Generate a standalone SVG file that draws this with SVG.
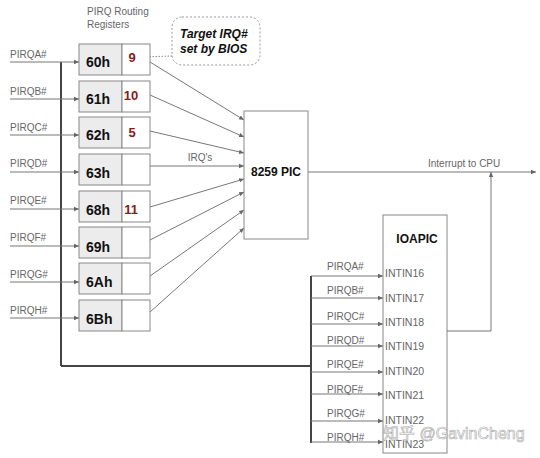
<svg xmlns="http://www.w3.org/2000/svg" width="540" height="458" viewBox="0 0 540 458">
<style>
text{font-family:"Liberation Sans",Arial,sans-serif}
.lbl{font-size:10px;fill:#666}
.reg{font-size:14px;font-weight:bold;fill:#111}
.val{font-size:13px;font-weight:bold;fill:#8b1a1a}
.intin{font-size:10.5px;fill:#666}
.box{fill:#fff;stroke:#888;stroke-width:1}
.regl{fill:#ececec;stroke:#888;stroke-width:1}
.ln{stroke:#777;stroke-width:1;fill:none}
.bus{stroke:#444;stroke-width:2;fill:none}
.big{font-size:12px;font-weight:bold;fill:#111}
</style>
<defs>
<marker id="ah" markerWidth="6" markerHeight="6" refX="5" refY="3" orient="auto" markerUnits="userSpaceOnUse">
<path d="M0,0.8 L5,3 L0,5.2 Z" fill="#666"/>
</marker>
</defs>

<text class="lbl" x="87" y="15" fill="#777">PIRQ Routing</text>
<text class="lbl" x="87" y="28">Registers</text>

<g id="callout">
<rect x="172" y="17" width="88" height="48" rx="10" fill="#fff" stroke="#999" stroke-dasharray="2,2"/>
<text x="180" y="38" style="font-size:12px;font-weight:bold;font-style:italic;fill:#111">Target IRQ#</text>
<text x="180" y="53" style="font-size:12px;font-weight:bold;font-style:italic;fill:#111">set by BIOS</text>
</g>

<g id="connectors">
<line x1="172" y1="56" x2="142" y2="57" stroke="#888" stroke-dasharray="1.5,1.5" marker-end="url(#ah)"/>
<line class="bus" x1="61" y1="62" x2="61" y2="366"/>
<line class="bus" x1="61" y1="366" x2="311" y2="366"/>
<line class="bus" x1="311" y1="276" x2="311" y2="443"/>
<line class="ln" x1="10" y1="62" x2="79" y2="62" marker-end="url(#ah)"/>
<line class="ln" x1="10" y1="99" x2="79" y2="99" marker-end="url(#ah)"/>
<line class="ln" x1="10" y1="135" x2="79" y2="135" marker-end="url(#ah)"/>
<line class="ln" x1="10" y1="172" x2="79" y2="172" marker-end="url(#ah)"/>
<line class="ln" x1="10" y1="209" x2="79" y2="209" marker-end="url(#ah)"/>
<line class="ln" x1="10" y1="246" x2="79" y2="246" marker-end="url(#ah)"/>
<line class="ln" x1="10" y1="282" x2="79" y2="282" marker-end="url(#ah)"/>
<line class="ln" x1="10" y1="318" x2="79" y2="318" marker-end="url(#ah)"/>
<line class="ln" x1="150" y1="62" x2="244" y2="120" marker-end="url(#ah)"/>
<line class="ln" x1="150" y1="95" x2="244" y2="137" marker-end="url(#ah)"/>
<line class="ln" x1="150" y1="131" x2="244" y2="153" marker-end="url(#ah)"/>
<line class="ln" x1="150" y1="166" x2="244" y2="166" marker-end="url(#ah)"/>
<line class="ln" x1="150" y1="207" x2="244" y2="179" marker-end="url(#ah)"/>
<line class="ln" x1="150" y1="240" x2="244" y2="192" marker-end="url(#ah)"/>
<line class="ln" x1="150" y1="276" x2="244" y2="210" marker-end="url(#ah)"/>
<line class="ln" x1="150" y1="312" x2="244" y2="228" marker-end="url(#ah)"/>
<line class="ln" x1="308" y1="172" x2="536" y2="172" marker-end="url(#ah)"/>
<polyline class="ln" points="447,331 491,331 491,172" marker-end="url(#ah)"/>
<line class="ln" x1="311" y1="276" x2="383" y2="276" marker-end="url(#ah)"/>
<line class="ln" x1="311" y1="298" x2="383" y2="298" marker-end="url(#ah)"/>
<line class="ln" x1="311" y1="324" x2="383" y2="324" marker-end="url(#ah)"/>
<line class="ln" x1="311" y1="346" x2="383" y2="346" marker-end="url(#ah)"/>
<line class="ln" x1="311" y1="372" x2="383" y2="372" marker-end="url(#ah)"/>
<line class="ln" x1="311" y1="394" x2="383" y2="394" marker-end="url(#ah)"/>
<line class="ln" x1="311" y1="421" x2="383" y2="421" marker-end="url(#ah)"/>
<line class="ln" x1="311" y1="442" x2="383" y2="442" marker-end="url(#ah)"/>
<text class="lbl" x="200" y="161" text-anchor="middle">IRQ's</text>
<text class="lbl" x="428" y="167">Interrupt to CPU</text>
</g>

<g id="inputs">
<text class="lbl" x="10" y="58">PIRQA#</text>
<text class="lbl" x="10" y="95">PIRQB#</text>
<text class="lbl" x="10" y="131">PIRQC#</text>
<text class="lbl" x="10" y="167">PIRQD#</text>
<text class="lbl" x="10" y="204">PIRQE#</text>
<text class="lbl" x="10" y="241">PIRQF#</text>
<text class="lbl" x="10" y="278">PIRQG#</text>
<text class="lbl" x="10" y="314">PIRQH#</text>
</g>

<g id="reg60"><rect class="regl" x="79" y="44" width="43" height="31"/><rect class="box" x="122" y="44" width="28" height="31"/><text class="reg" x="86" y="67">60h</text><text class="val" x="132" y="62" text-anchor="middle">9</text></g>
<g id="reg61"><rect class="regl" x="79" y="81" width="43" height="31"/><rect class="box" x="122" y="81" width="28" height="31"/><text class="reg" x="86" y="104">61h</text><text class="val" x="131" y="100" text-anchor="middle">10</text></g>
<g id="reg62"><rect class="regl" x="79" y="117" width="43" height="31"/><rect class="box" x="122" y="117" width="28" height="31"/><text class="reg" x="86" y="140">62h</text><text class="val" x="132" y="137" text-anchor="middle">5</text></g>
<g id="reg63"><rect class="regl" x="79" y="154" width="43" height="31"/><rect class="box" x="122" y="154" width="28" height="31"/><text class="reg" x="86" y="178">63h</text></g>
<g id="reg68"><rect class="regl" x="79" y="191" width="43" height="31"/><rect class="box" x="122" y="191" width="28" height="31"/><text class="reg" x="86" y="215">68h</text><text class="val" x="131" y="214" text-anchor="middle">11</text></g>
<g id="reg69"><rect class="regl" x="79" y="227" width="43" height="31"/><rect class="box" x="122" y="227" width="28" height="31"/><text class="reg" x="86" y="252">69h</text></g>
<g id="reg6A"><rect class="regl" x="79" y="263" width="43" height="31"/><rect class="box" x="122" y="263" width="28" height="31"/><text class="reg" x="86" y="287">6Ah</text></g>
<g id="reg6B"><rect class="regl" x="79" y="300" width="43" height="31"/><rect class="box" x="122" y="300" width="28" height="31"/><text class="reg" x="86" y="324">6Bh</text></g>

<g id="pic"><rect class="box" x="244" y="111" width="64" height="128"/><text class="big" x="276" y="176" text-anchor="middle">8259 PIC</text></g>

<g id="ioapic">
<rect class="box" x="383" y="215" width="64" height="238"/>
<text class="big" x="417" y="243" text-anchor="middle">IOAPIC</text>
<text class="intin" x="385" y="277">INTIN16</text>
<text class="intin" x="385" y="302">INTIN17</text>
<text class="intin" x="385" y="326">INTIN18</text>
<text class="intin" x="385" y="350">INTIN19</text>
<text class="intin" x="385" y="375">INTIN20</text>
<text class="intin" x="385" y="399">INTIN21</text>
<text class="intin" x="385" y="424">INTIN22</text>
<text class="intin" x="385" y="448">INTIN23</text>
</g>

<g id="ioapic-inputs">
<text class="lbl" x="327" y="270">PIRQA#</text>
<text class="lbl" x="327" y="294">PIRQB#</text>
<text class="lbl" x="327" y="320">PIRQC#</text>
<text class="lbl" x="327" y="344">PIRQD#</text>
<text class="lbl" x="327" y="368">PIRQE#</text>
<text class="lbl" x="327" y="393">PIRQF#</text>
<text class="lbl" x="327" y="417">PIRQG#</text>
<text class="lbl" x="327" y="441">PIRQH#</text>
</g>

<text x="383" y="439" style="font-family:'Liberation Sans','Noto Sans CJK SC',sans-serif;font-size:16px;fill:#fff;stroke:#999;stroke-width:0.6;opacity:0.85">知乎 @GavinCheng</text>
</svg>
